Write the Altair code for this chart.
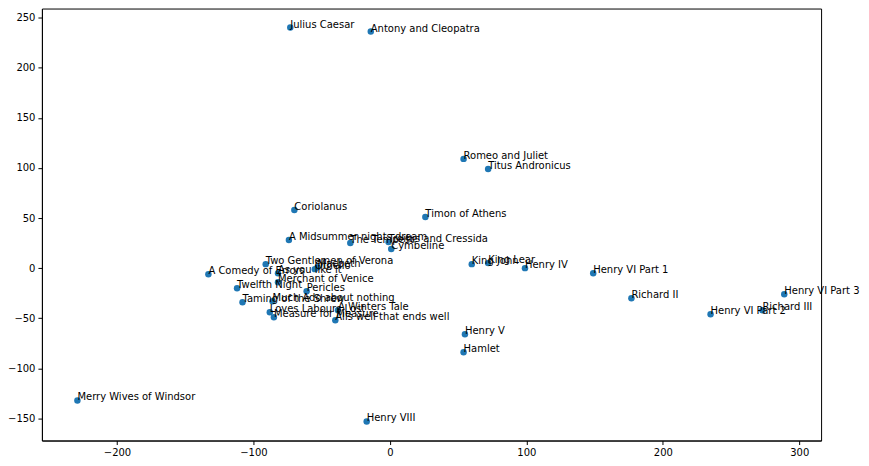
import altair as alt
import pandas as pd

titles = [
    "Julius Caesar", "Antony and Cleopatra", "Romeo and Juliet", "Titus Andronicus",
    "Coriolanus", "Timon of Athens", "A Midsummer nights dream", "The Tempest",
    "Troilus and Cressida", "Cymbeline", "King John", "King Lear", "Henry IV",
    "Henry VI Part 1", "Richard II", "Henry VI Part 2", "Richard III", "Henry VI Part 3",
    "Two Gentlemen of Verona", "A Comedy of Errors", "As you like it", "Merchant of Venice",
    "Othello", "Macbeth", "Twelfth Night", "Pericles", "Taming of the Shrew",
    "Much Ado about nothing", "Loves Labours Lost", "Measure for Measure",
    "A Winters Tale", "Alls well that ends well", "Henry V", "Hamlet",
    "Merry Wives of Windsor", "Henry VIII",
]
xs = [
    -73, -14, 54, 72,
    -70, 26, -74, -29,
    -1, 1, 60, 72, 99,
    149, 177, 235, 273, 289,
    -91, -133, -82, -82,
    -55, -53, -112, -61, -108,
    -86, -88, -85,
    -38, -40, 55, 54,
    -229, -17,
]
ys = [
    240, 236, 109, 99,
    58, 51, 28, 25,
    26, 19, 4, 5, 0,
    -5, -30, -46, -42, -26,
    4, -6, -5, -14,
    -1, 1, -20, -23, -34,
    -33, -44, -49,
    -42, -52, -66, -84,
    -132, -153,
]

x_ticks = [-200, -100, 0, 100, 200, 300]
y_ticks = [-150, -100, -50, 0, 50, 100, 150, 200, 250]

df = pd.DataFrame({"title": titles, "x": xs, "y": ys})

xenc = alt.X("x:Q", scale=alt.Scale(domain=[-255, 316], nice=False, zero=False),
             axis=alt.Axis(values=x_ticks, title=None, grid=False, tickSize=4,
                           labelFontSize=10, labelColor="black", domainColor="black",
                           tickColor="black", labelFont="DejaVu Sans", labelPadding=3))
yenc = alt.Y("y:Q", scale=alt.Scale(domain=[-172, 259], nice=False, zero=False),
             axis=alt.Axis(values=y_ticks, title=None, grid=False, tickSize=4,
                           labelFontSize=10, labelColor="black", domainColor="black",
                           tickColor="black", labelFont="DejaVu Sans", labelPadding=3))

points = alt.Chart(df).mark_point(filled=True, size=42, color="#1f77b4", opacity=1).encode(
    x=xenc, y=yenc
)
labels = alt.Chart(df).mark_text(align="left", baseline="alphabetic", fontSize=10,
                                 font="DejaVu Sans", color="black").encode(
    x="x:Q", y="y:Q", text="title:N"
)

chart = (points + labels).properties(
    width=781, height=433,
    autosize=alt.AutoSizeParams(type="none"),
    padding={"left": 34, "top": 0, "right": 40, "bottom": 30},
).configure_view(stroke="black", strokeWidth=1)

chart.save("out.html", embed_options={"renderer": "svg", "actions": False})
